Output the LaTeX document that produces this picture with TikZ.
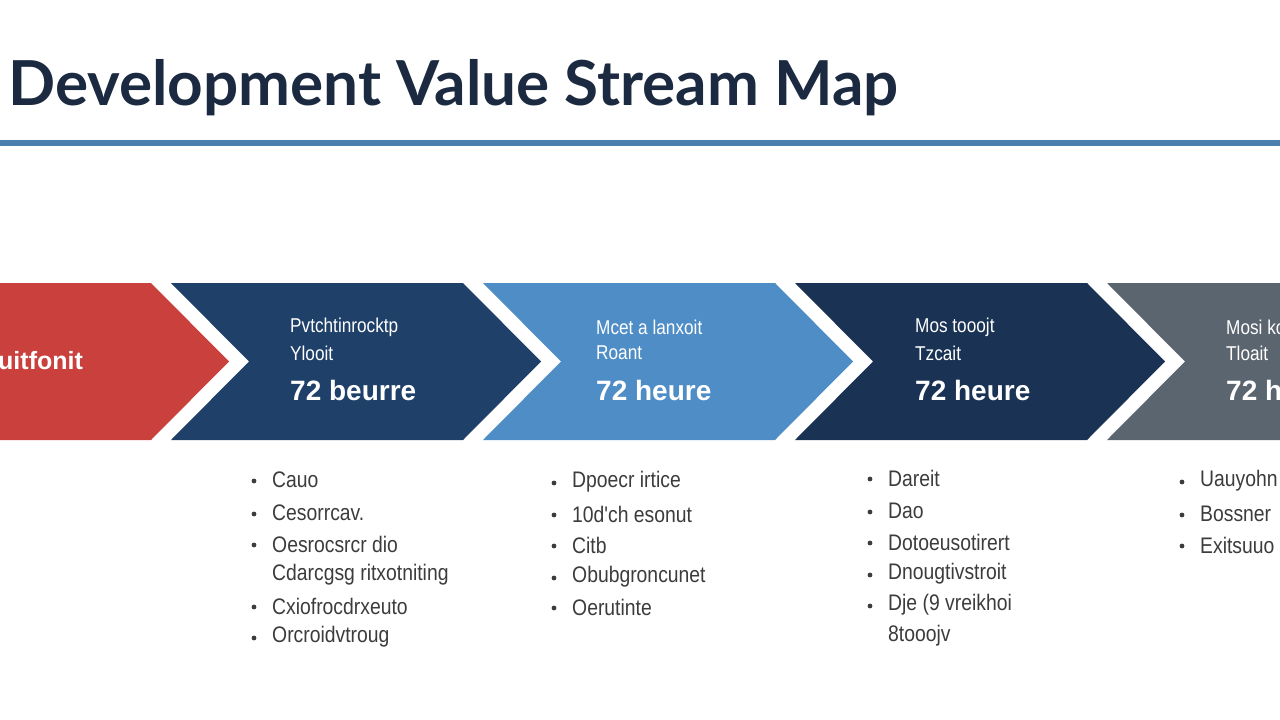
\documentclass[tikz,border=0pt]{standalone}
\usepackage{fontspec}
\setmainfont{Liberation Sans}
\newfontfamily\titlefont{Lato}
\newfontfamily\condfont[FakeStretch=0.86]{Liberation Sans}
\definecolor{titlecol}{HTML}{1B2A40}
\definecolor{rulecol}{HTML}{4A7EAE}
\definecolor{cred}{HTML}{C9403D}
\definecolor{cnavy}{HTML}{1F4068}
\definecolor{clight}{HTML}{4E8DC6}
\definecolor{cdark}{HTML}{1A3354}
\definecolor{cgray}{HTML}{5B6570}
\definecolor{btext}{HTML}{3C3C3C}
\newcommand{\chevron}[2]{%
  \fill[#2] (#1,283) -- ++(292,0) -- ++(78,78.5) -- ++(-78,78.5) -- ++(-292,0) -- ++(78,-78.5) -- cycle;}
\newcommand{\bitem}[4]{%
  \fill[btext] (#2-18,#3+1) circle (2.4);
  \node[btxt] (#1) at (#2,#3) {#4};}
\newcommand{\bcont}[4]{%
  \node[btxt] (#1) at (#2,#3) {#4};}
\begin{document}
\begin{tikzpicture}[x=1pt,y=-1pt,
  hdr/.style={anchor=west,inner sep=0,text=white,font=\condfont\fontsize{20}{20}\selectfont},
  hrs/.style={anchor=west,inner sep=0,text=white,font=\bfseries\fontsize{28}{28}\selectfont},
  btxt/.style={anchor=west,inner sep=0,text=btext,font=\condfont\fontsize{22.5}{22.5}\selectfont}]
\useasboundingbox (0,0) rectangle (1280,720);
\fill[white] (0,0) rectangle (1280,720);
\node[anchor=base west,inner sep=0,text=titlecol,font=\titlefont\bfseries\fontsize{62}{62}\selectfont] (title) at (8,105) {Development Value Stream Map};
\fill[rulecol] (0,140) rectangle (1280,146);
\begin{scope}
\clip (0,0) rectangle (1280,720);
\chevron{-141}{cred}
\chevron{171}{cnavy}
\chevron{483}{clight}
\chevron{795}{cdark}
\chevron{1107}{cgray}
\node[anchor=west,inner sep=0,text=white,font=\bfseries\fontsize{25}{25}\selectfont] (r1) at (-2,361) {uitfonit};
\node[hdr] (a1) at (290,327) {Pvtchtinrocktp};
\node[hdr] (a2) at (290,353) {Ylooit};
\node[hrs] (a3) at (290,390) {72 beurre};
\node[hdr] (b1) at (596,327) {Mcet a lanxoit};
\node[hdr] (b2) at (596,353) {Roant};
\node[hrs] (b3) at (596,390) {72 heure};
\node[hdr] (c1) at (915,327) {Mos tooojt};
\node[hdr] (c2) at (915,353) {Tzcait};
\node[hrs] (c3) at (915,390) {72 heure};
\node[hdr] (d1) at (1226,327) {Mosi kooit};
\node[hdr] (d2) at (1226,353) {Tloait};
\node[hrs] (d3) at (1226,390) {72 heure};
\end{scope}
\bitem{p1}{272}{480}{Cauo}
\bitem{p2}{272}{513}{Cesorrcav.}
\bitem{p3}{272}{544}{Oesrocsrcr dio}
\bcont{p4}{272}{575}{Cdarcgsg ritxotniting}
\bitem{p5}{272}{606}{Cxiofrocdrxeuto}
\bitem{p6}{272}{637}{Orcroidvtroug}
\bitem{q1}{572}{482}{Dpoecr irtice}
\bitem{q2}{572}{514}{10d'ch esonut}
\bitem{q3}{572}{545}{Citb}
\bitem{q4}{572}{577}{Obubgroncunet}
\bitem{q5}{572}{607}{Oerutinte}
\bitem{s1}{888}{478}{Dareit}
\bitem{s2}{888}{511}{Dao}
\bitem{s3}{888}{542}{Dotoeusotirert}
\bitem{s4}{888}{574}{Dnougtivstroit}
\bitem{s5}{888}{605}{Dje (9 vreikhoi}
\bcont{s6}{888}{636}{8tooojv}
\begin{scope}
\clip (0,0) rectangle (1280,720);
\bitem{t1}{1200}{481}{Uauyohn}
\bitem{t2}{1200}{514}{Bossner}
\bitem{t3}{1200}{545}{Exitsuuo}
\end{scope}
\end{tikzpicture}
\end{document}
